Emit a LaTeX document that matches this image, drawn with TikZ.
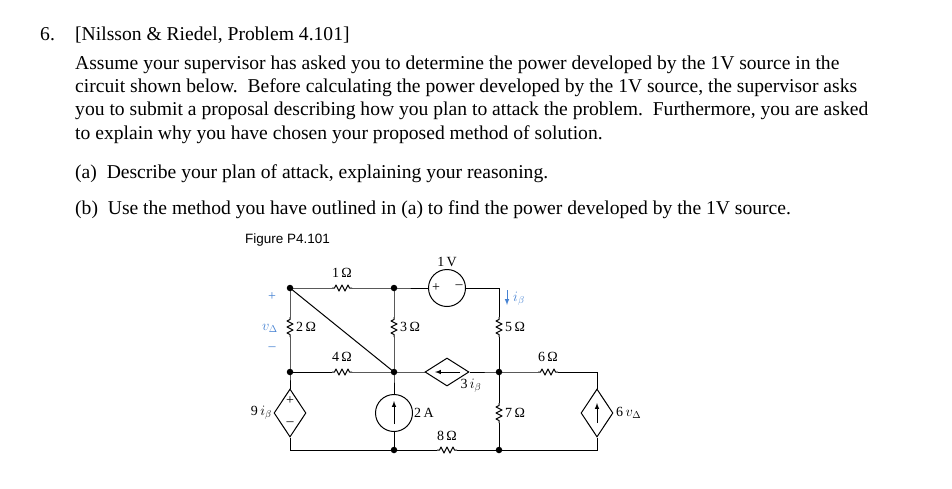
\documentclass[tikz,border=0pt]{standalone}
\usepackage{fontspec}
\setmainfont{Liberation Serif}
\newfontfamily\figsans{Liberation Sans}
\usetikzlibrary{shapes.geometric}
\begin{document}
\begin{tikzpicture}[x=1pt,y=-1pt,
  txt/.style={anchor=base west,inner sep=0pt,font=\fontsize{19.6}{22}\selectfont},
  lbl/.style={inner sep=0pt,font=\fontsize{14}{16}\selectfont},
  blu/.style={inner sep=0pt,font=\fontsize{14}{16}\selectfont,text=cirblue},
  w/.style={line width=1pt},
  dot/.style={circle,fill=black,inner sep=0pt,minimum size=6.5pt},
  hres/.pic={\fill[white](-10,-4) rectangle (10,4);
    \draw[w,line join=round](-10,0)--(-7.5,0)--(-6,-3)--(-3,3)--(0,-3)--(3,3)--(6,-3)--(7.5,0)--(10,0);},
  vres/.pic={\fill[white](-4,-10) rectangle (4,10);
    \draw[w,line join=round](0,-10)--(0,-7.5)--(-3,-6)--(3,-3)--(-3,0)--(3,3)--(-3,6)--(0,7.5)--(0,10);}
]
\definecolor{cirblue}{RGB}{70,130,210}
\useasboundingbox (0,0) rectangle (952,488);
% text
\node[txt] (t0) at (40,40) {6.};
\node[txt] (t1) at (75,40) {[Nilsson \& Riedel, Problem 4.101]};
\node[txt] (t2) at (75,69) {Assume your supervisor has asked you to determine the power developed by the 1V source in the};
\node[txt] (t3) at (75,92) {circuit shown below.\ \ Before calculating the power developed by the 1V source, the supervisor asks};
\node[txt] (t4) at (75,115) {you to submit a proposal describing how you plan to attack the problem.\ \ Furthermore, you are asked};
\node[txt] (t5) at (75,139) {to explain why you have chosen your proposed method of solution.};
\node[txt] (t6) at (75,178) {(a)\ \ Describe your plan of attack, explaining your reasoning.};
\node[txt] (t7) at (75,214) {(b)\ \ Use the method you have outlined in (a) to find the power developed by the 1V source.};
\node[anchor=west,inner sep=0pt,font=\figsans\fontsize{13.5}{15}\selectfont] (fig) at (245,240) {Figure P4.101};
% coordinates
\coordinate (A) at (290,288); \coordinate (B) at (394,288); \coordinate (C) at (499,288);
\coordinate (D) at (290,372); \coordinate (E) at (394,372); \coordinate (F) at (499,372); \coordinate (G) at (597,372);
\coordinate (H) at (290,450); \coordinate (I) at (394,450); \coordinate (J) at (499,450); \coordinate (K) at (597,450);
% sources
\node[circle,draw,w,minimum size=37pt,inner sep=0pt] (V1) at (447,288) {};
\node[lbl] at (436,288) {+}; \node[lbl] at (459,287) {--};
\node[circle,draw,w,minimum size=37pt,inner sep=0pt] (S2) at (394,413) {};
\draw[w,-latex] (394,424) -- (394,401);
\node[diamond,draw,w,minimum width=44pt,minimum height=28pt,inner sep=0pt] (D3) at (447,372) {};
\draw[w,-latex] (460,372) -- (435,372);
\node[diamond,draw,w,minimum width=32pt,minimum height=48pt,inner sep=0pt] (D9) at (290,413) {};
\node[lbl] at (290,401) {+}; \node[lbl] at (290,424) {--};
\node[diamond,draw,w,minimum width=32pt,minimum height=48pt,inner sep=0pt] (D6) at (597,413) {};
\draw[w,-latex] (597,423) -- (597,403);
% wires
\draw[w] (A) -- (B) -- (V1.west); \draw[w] (V1.east) -- (C) -- (F);
\draw[w] (A) -- (D) -- (D9.north); \draw[w] (D9.south) -- (H) -- (I) -- (J) -- (K) -- (D6.south);
\draw[w] (D6.north) -- (G) -- (F) -- (D3.east); \draw[w] (D3.west) -- (E) -- (D);
\draw[w] (B) -- (E) -- (S2.north); \draw[w] (S2.south) -- (I);
\draw[w] (F) -- (J); \draw[w] (A) -- (E);
% resistors
\pic at (342,288) {hres}; \pic at (342,372) {hres}; \pic at (548,372) {hres}; \pic at (447,450) {hres};
\pic at (290,327) {vres}; \pic at (394,327) {vres}; \pic at (499,327) {vres}; \pic at (499,413) {vres};
% dots
\foreach \p in {A,B,D,E,F,I,J} \node[dot] at (\p) {};
% labels
\node[lbl] at (447,262) {1\,V};
\node[lbl] at (342,273) {1\,Ω};
\node[lbl] at (342,357) {4\,Ω};
\node[lbl] at (548,357) {6\,Ω};
\node[lbl] at (447,436) {8\,Ω};
\node[lbl,anchor=west] at (296,327) {2\,Ω};
\node[lbl,anchor=west] at (400,327) {3\,Ω};
\node[lbl,anchor=west] at (505,327) {5\,Ω};
\node[lbl,anchor=west] at (505,413) {7\,Ω};
\node[lbl,anchor=west] at (414,413) {2\,A};
\node[lbl] at (471,386) {3\,$i_\beta$};
\node[lbl,anchor=east] at (272,413) {9\,$i_\beta$};
\node[lbl,anchor=west] at (616,413) {6\,$v_\Delta$};
\node[blu] at (272,297) {+};
\node[blu] at (270,328) {$v_\Delta$};
\node[blu] at (272,349) {--};
\draw[cirblue,line width=1pt,-latex] (507,290) -- (507,305);
\node[blu,anchor=west] at (513,299) {$i_\beta$};
\end{tikzpicture}
\end{document}
